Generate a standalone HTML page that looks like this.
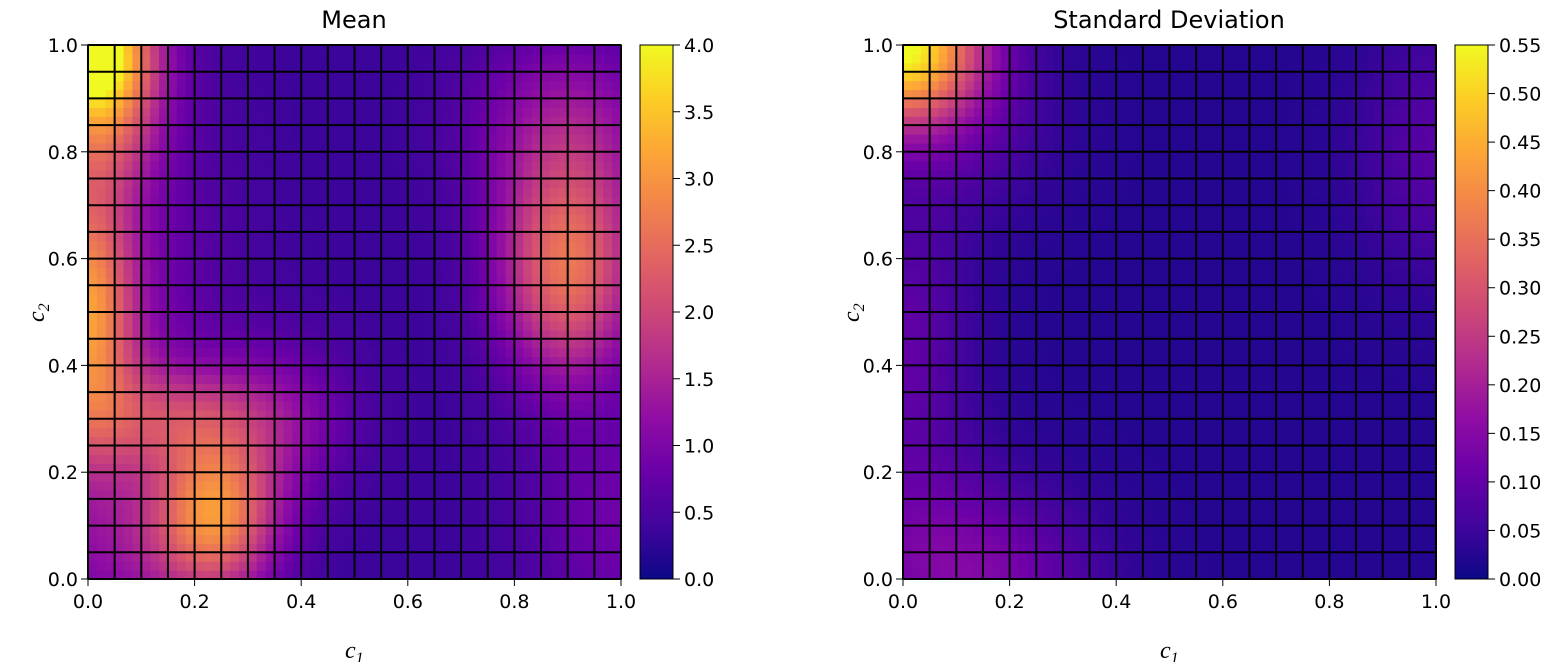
<!DOCTYPE html>
<html><head><meta charset="utf-8">
<style>
body{margin:0;background:#fff;}
svg text{font-family:"DejaVu Sans","Liberation Sans",sans-serif;font-size:19px;fill:#000;}
.ser{font-family:"Liberation Serif",serif;font-style:italic;font-size:24px;}
</style></head><body>
<svg id="s" width="1550" height="662" xmlns="http://www.w3.org/2000/svg">
<defs>
<linearGradient id="pl" x1="0" y1="1" x2="0" y2="0">
<stop offset="0" stop-color="#0d0887"/><stop offset="0.1" stop-color="#41049d"/><stop offset="0.2" stop-color="#6a00a8"/><stop offset="0.3" stop-color="#8f0da4"/><stop offset="0.4" stop-color="#b12a90"/><stop offset="0.5" stop-color="#cc4778"/><stop offset="0.6" stop-color="#e16462"/><stop offset="0.7" stop-color="#f2844b"/><stop offset="0.8" stop-color="#fca636"/><stop offset="0.9" stop-color="#fcce25"/><stop offset="1" stop-color="#f0f921"/>
</linearGradient></defs>
<g id="g1"></g><g id="g2"></g>
<text x="354" y="28" text-anchor="middle" style="font-size:24px">Mean</text>
<text x="1169" y="28" text-anchor="middle" style="font-size:24px">Standard Deviation</text>
<text class="ser" x="345" y="658">c<tspan font-size="16" dy="5">1</tspan></text>
<text class="ser" x="1160" y="658">c<tspan font-size="16" dy="5">1</tspan></text>
<text class="ser" transform="translate(44,322) rotate(-90)">c<tspan font-size="16" dy="5">2</tspan></text>
<text class="ser" transform="translate(859,322) rotate(-90)">c<tspan font-size="16" dy="5">2</tspan></text>
<rect x="640" y="45" width="33" height="534" fill="url(#pl)" stroke="#000" stroke-width="1"/>
<rect x="1455" y="45" width="33" height="534" fill="url(#pl)" stroke="#000" stroke-width="1"/>
<g id="t"></g>
</svg>
<script>
const stops=[[13,8,135],[65,4,157],[106,0,168],[143,13,164],[177,42,144],[204,71,120],[225,100,98],[242,132,75],[252,166,54],[252,206,37],[240,249,33]];
function cm(v){v=Math.max(0,Math.min(1,v));const f=v*10,i=Math.min(9,Math.floor(f)),t=f-i;const a=stops[i],b=stops[i+1];return`rgb(${a.map((c,k)=>Math.round(c+(b[k]-c)*t)).join(',')})`;}
const E=(x,y,cx,cy,sx,sy)=>Math.exp(-((x-cx)**2/sx+(y-cy)**2/sy));
function mean(x,y){return 0.35+0.7*E(x,y,0,0.5,0.05,0.3)+3.4*E(x,y,0,1,0.012,0.012)+1.6*E(x,y,0.03,0.88,0.01,0.02)+2.1*E(x,y,0,0.5,0.007,0.06)+2.3*E(x,y,0.24,0.12,0.013,0.02)+1.1*E(x,y,0.15,0.3,0.03,0.01)+0.7*E(x,y,0.35,0.3,0.02,0.02)+2.2*E(x,y,0.9,0.58,0.016,0.04)+0.9*E(x,y,0.9,0.85,0.03,0.03)+0.5*E(x,y,1,0.1,0.03,0.05)+0.5*E(x,y,0.1,0.05,0.03,0.02);}
function sd(x,y){return 0.025+0.52*E(x,y,0,1,0.02,0.02)+0.1*E(x,y,0.15,0,0.04,0.025)+0.07*E(x,y,0,0.45,0.015,0.06)+0.06*E(x,y,1,0.8,0.02,0.05)+0.05*E(x,y,0,0.1,0.03,0.04)+0.05*E(x,y,0.1,0.85,0.03,0.03);}
const NS="http://www.w3.org/2000/svg";
function el(p,n,a,txt){const e=document.createElementNS(NS,n);for(const k in a)e.setAttribute(k,a[k]);if(txt!=null)e.textContent=txt;p.appendChild(e);return e;}
function panel(g,x0,f,vmax){const W=533,H=534,N=60;const cw=W/N,ch=H/N;
for(let i=0;i<N;i++)for(let j=0;j<N;j++){const x=(i+0.5)/N,y=(j+0.5)/N;el(g,'rect',{x:x0+i*cw,y:579-(j+1)*ch,width:cw+0.6,height:ch+0.6,fill:cm(f(x,y)/vmax)});}
for(let k=0;k<=20;k++){el(g,'line',{x1:x0+k*W/20,y1:45,x2:x0+k*W/20,y2:579,stroke:'#000','stroke-width':2});el(g,'line',{x1:x0,y1:45+k*H/20,x2:x0+W,y2:45+k*H/20,stroke:'#000','stroke-width':2});}
el(g,'rect',{x:x0,y:45,width:W,height:H,fill:'none',stroke:'#000','stroke-width':1.5});
for(let k=0;k<=5;k++){const v=(k*0.2).toFixed(1);const px=x0+k*W/5,py=579-k*H/5;
el(g,'line',{x1:px,y1:579,x2:px,y2:586,stroke:'#000'});el(g,'text',{x:px,y:608,'text-anchor':'middle'},v);
el(g,'line',{x1:x0,y1:py,x2:x0-7,y2:py,stroke:'#000'});el(g,'text',{x:x0-10,y:py+7,'text-anchor':'end'},v);}
}
panel(document.getElementById('g1'),88,mean,4);
panel(document.getElementById('g2'),903,sd,0.55);
const t=document.getElementById('t');
for(let k=0;k<=8;k++){const py=579-k*534/8;el(t,'line',{x1:673,y1:py,x2:680,y2:py,stroke:'#000'});el(t,'text',{x:684,y:py+7},(k*0.5).toFixed(1));}
for(let k=0;k<=11;k++){const py=579-k*534/11;el(t,'line',{x1:1488,y1:py,x2:1495,y2:py,stroke:'#000'});el(t,'text',{x:1499,y:py+7},(k*0.05).toFixed(2));}
</script>
</body></html>
